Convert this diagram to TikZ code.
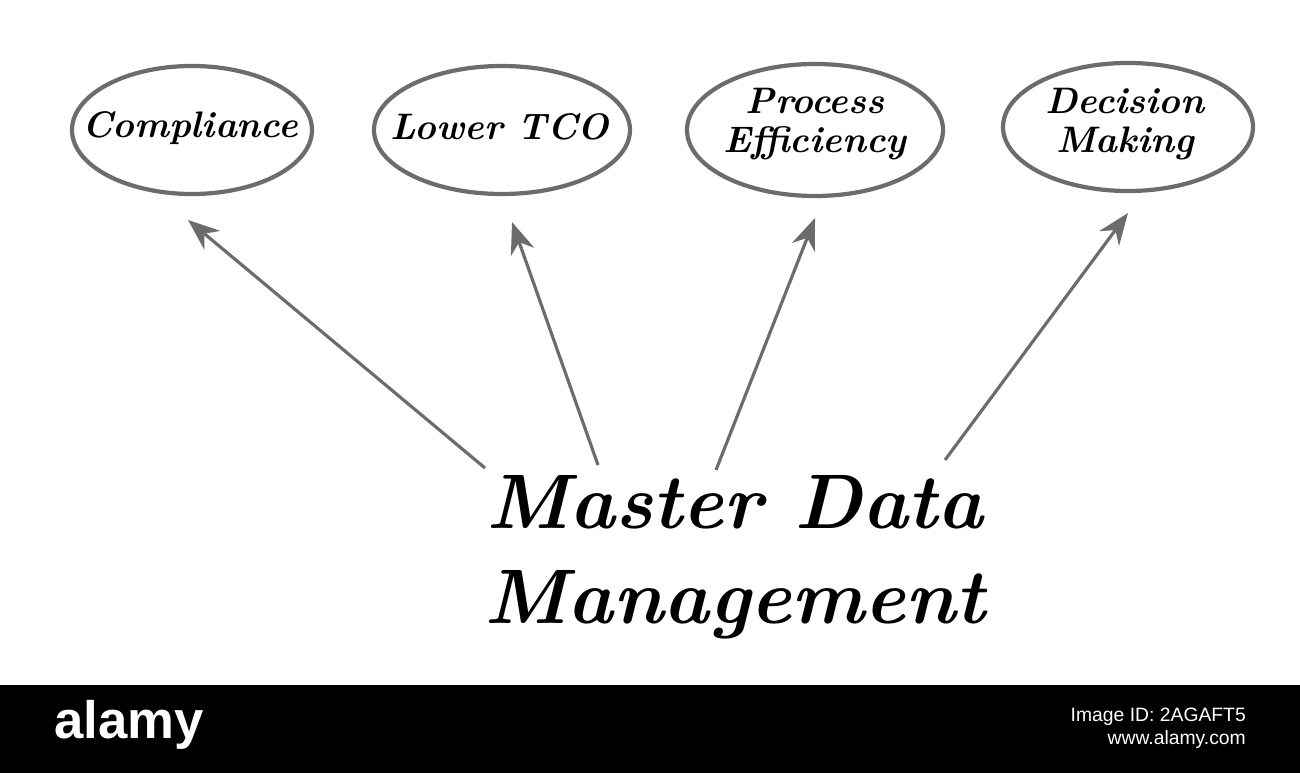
\documentclass[tikz,border=0pt]{standalone}
\usepackage{fontspec}
\newfontfamily\sansf{Liberation Sans}
\usetikzlibrary{arrows.meta}
\begin{document}
\begin{tikzpicture}[x=0.02cm,y=-0.02cm,
  arr/.style={draw=gray!85!black,line width=1.8pt,-{Stealth[length=18pt,width=14pt]}},
  lbl/.style={font=\bfseries\itshape\fontsize{21}{22}\selectfont,align=center}]
\useasboundingbox (0,0) rectangle (1300,773);
\fill[black] (0,685) rectangle (1300,773);
\foreach \n/\x/\y/\rx/\ry in {c/192/130/120/64, l/502/130/128/64, p/815/130/128/66, d/1128/127/125/64}{
  \draw[draw=gray!85!black,line width=2.4pt] (\x,\y) ellipse [x radius=\rx,y radius=\ry];
}
\node[lbl] (tc) at (190,128) {Compliance};
\node[lbl] (tl) at (500,127) {Lower TCO};
\node[lbl] (tp) at (815,124) {Process\\Efficiency};
\node[lbl] (td) at (1125,124) {Decision\\Making};
\coordinate (c1) at (188,220); \coordinate (c2) at (512,222);
\coordinate (c3) at (815,218); \coordinate (c4) at (1128,213);
\coordinate (s1) at (485,468); \coordinate (s2) at (598,465);
\coordinate (s3) at (716,470); \coordinate (s4) at (945,460);
\draw[arr] (s1) -- (c1);
\draw[arr] (s2) -- (c2);
\draw[arr] (s3) -- (c3);
\draw[arr] (s4) -- (c4);
\node[font=\bfseries\itshape\fontsize{44}{54}\selectfont,align=center] (m) at (735,557) {Master Data\\Management};
\node[text=white,font=\sansf\bfseries\fontsize{30}{30}\selectfont,anchor=west] (al) at (48,725) {alamy};
\node[text=white,font=\sansf\fontsize{11}{13}\selectfont,align=right,anchor=east] (id) at (1252,728) {Image ID: 2AGAFT5\\www.alamy.com};
\end{tikzpicture}
\end{document}
